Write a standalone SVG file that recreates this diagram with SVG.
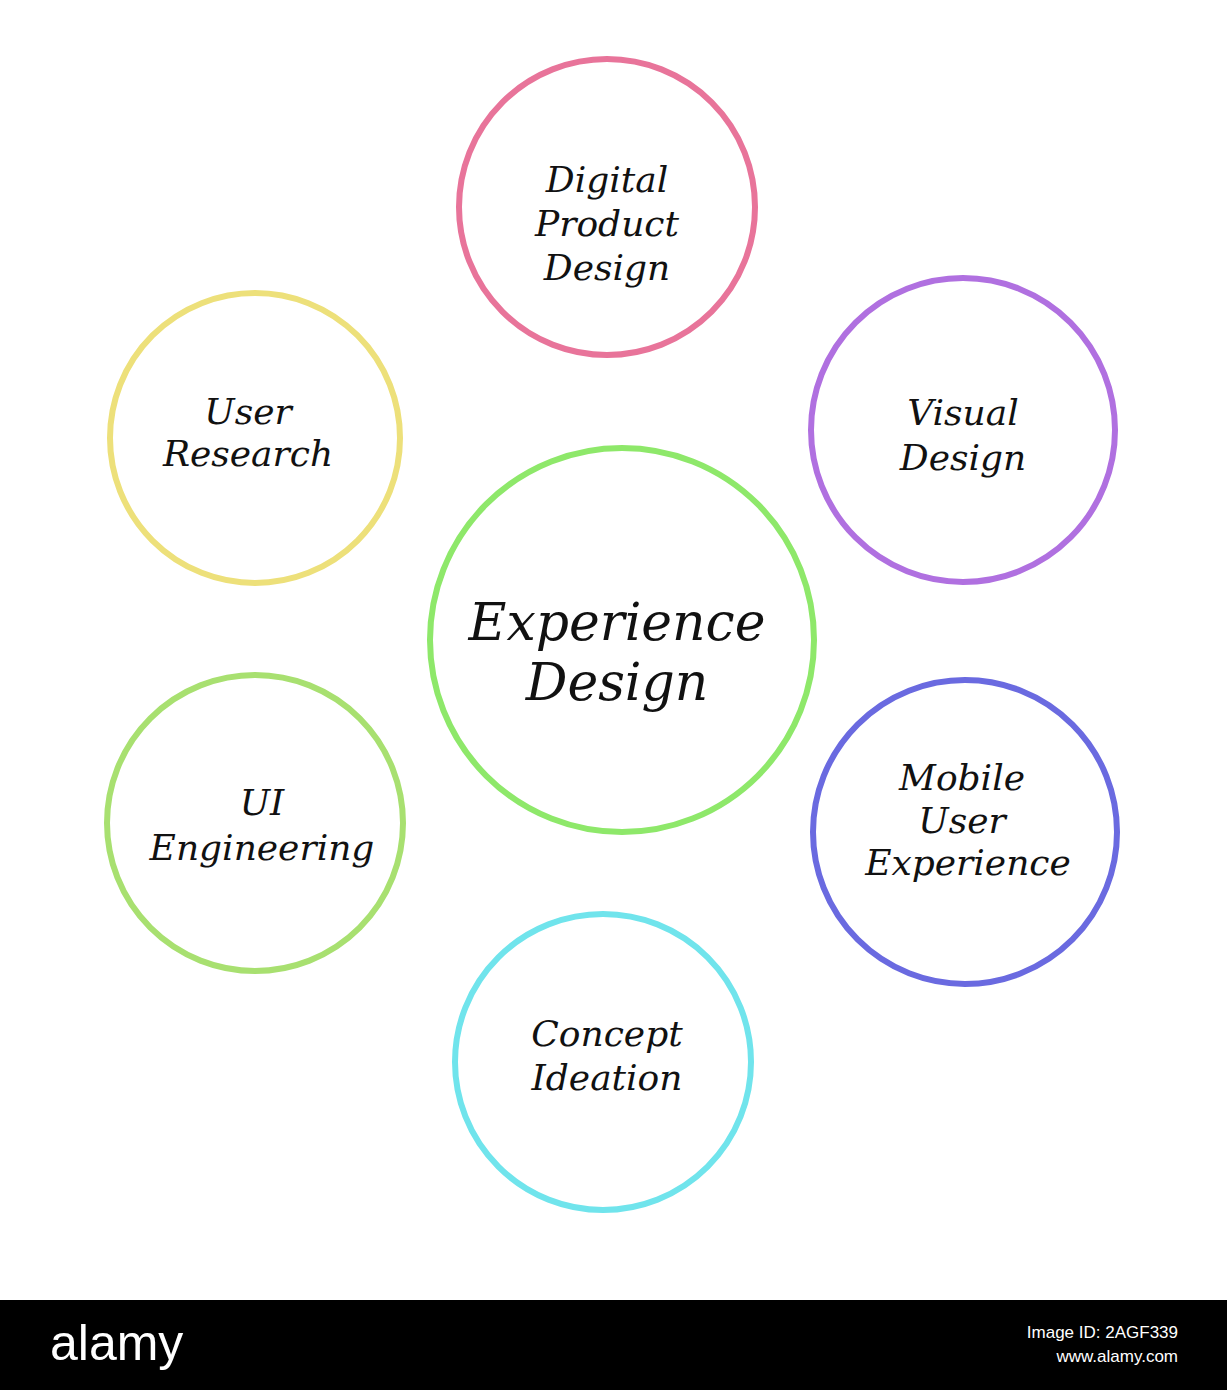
<svg xmlns="http://www.w3.org/2000/svg" width="1227" height="1390" viewBox="0 0 1227 1390">
<style>
.c{fill:none;stroke-width:6}
.t{font-family:"DejaVu Serif","Liberation Serif",serif;font-style:italic;font-size:36px;fill:#111;text-anchor:middle}
.big{font-size:52px}
</style>
<rect width="1227" height="1390" fill="#fff"/>
<g id="n-digital"><circle class="c" cx="607" cy="207" r="148" stroke="#e8749a"/><text class="t" x="607" y="192">Digital</text><text class="t" x="607" y="236">Product</text><text class="t" x="607" y="280">Design</text></g>
<g id="n-visual"><circle class="c" cx="963" cy="430" r="152" stroke="#b070e0"/><text class="t" x="963" y="425">Visual</text><text class="t" x="963" y="470">Design</text></g>
<g id="n-user"><circle class="c" cx="255" cy="438" r="145" stroke="#ede07a"/><text class="t" x="248" y="424">User</text><text class="t" x="248" y="466">Research</text></g>
<g id="n-center"><circle class="c" cx="622" cy="640" r="192" stroke="#8ee86a" stroke-width="7"/><text class="t big" x="617" y="640">Experience</text><text class="t big" x="617" y="700">Design</text></g>
<g id="n-ui"><circle class="c" cx="255" cy="823" r="148" stroke="#a8e070"/><text class="t" x="262" y="815">UI</text><text class="t" x="262" y="860">Engineering</text></g>
<g id="n-mobile"><circle class="c" cx="965" cy="832" r="152" stroke="#6a6ae0"/><text class="t" x="962" y="790">Mobile</text><text class="t" x="962" y="833">User</text><text class="t" x="968" y="875">Experience</text></g>
<g id="n-concept"><circle class="c" cx="603" cy="1062" r="148" stroke="#70e4ec"/><text class="t" x="607" y="1046">Concept</text><text class="t" x="607" y="1090">Ideation</text></g>
<g id="connectors"></g>
<rect x="0" y="1300" width="1227" height="90" fill="#000"/>
<text x="50" y="1360" font-family="Liberation Sans,sans-serif" font-size="50" fill="#fff">alamy</text>
<text x="1178" y="1338" font-family="Liberation Sans,sans-serif" font-size="17" fill="#fff" text-anchor="end">Image ID: 2AGF339</text>
<text x="1178" y="1362" font-family="Liberation Sans,sans-serif" font-size="17" fill="#fff" text-anchor="end">www.alamy.com</text>
</svg>
